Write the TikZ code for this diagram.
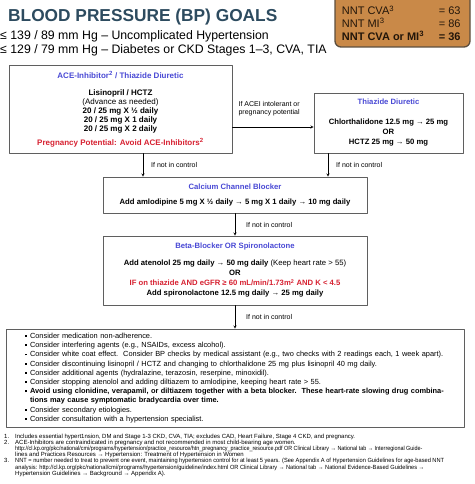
\documentclass[tikz,border=0pt]{standalone}
\usepackage{fontspec}
\usepackage{graphicx}
\setmainfont{Liberation Sans}
\usetikzlibrary{calc}
\definecolor{titlecol}{RGB}{45,75,95}
\definecolor{hdblue}{RGB}{72,72,212}
\definecolor{bpred}{RGB}{214,32,48}
\definecolor{boxgray}{RGB}{95,95,95}
\definecolor{nntfill}{RGB}{201,137,72}
\definecolor{nntline}{RGB}{92,78,62}
\definecolor{nnttext}{RGB}{35,22,10}
\newcommand{\sqb}{\hspace*{15pt}\makebox[5pt][l]{\rule[1.6pt]{1.8pt}{1.8pt}}}
\newcommand{\fnum}[1]{\makebox[11pt][l]{#1}}

\begin{document}
\begin{tikzpicture}[x=1pt,y=-1pt,>=stealth, line join=round, line cap=round]
	\tikzset{
		box/.style={draw=boxgray, line width=0.8pt, inner sep=0pt, align=center,
			font=\fontsize{7.7}{10}\selectfont\bfseries},
		lbl/.style={inner sep=0pt, font=\fontsize{7}{8.3}\selectfont},
		nntbox/.style={draw=nntline, line width=1.3pt, fill=nntfill, rounded corners=6pt}
	}
	\useasboundingbox (0,0) rectangle (474,484);
	% heading and goals
	\node[anchor=base west, inner sep=0pt, text=titlecol,
		font=\fontsize{17.3}{20}\selectfont\bfseries] (title) at (8,21.7) {BLOOD PRESSURE (BP) GOALS};
	\node[anchor=base west, inner sep=0pt, font=\fontsize{12.3}{14}\selectfont] (goalA) at (0,39.3)
		{≤ 139 / 89 mm Hg – Uncomplicated Hypertension};
	\node[anchor=base west, inner sep=0pt, font=\fontsize{12.3}{14}\selectfont] (goalB) at (0,54)
		{≤ 129 / 79 mm Hg – Diabetes or CKD Stages 1–3, CVA, TIA};
	% NNT box
	\node[nntbox, minimum width=135, minimum height=54] (nnt) at (402.5,20) {};
	\node[anchor=base west, inner sep=0pt, text=nnttext, font=\fontsize{11}{11.6}\selectfont] (nnttxt) at (341.7,15)
		{\begin{tabular}[t]{@{}p{97pt}@{}l@{}}
			NNT CVA\textsuperscript{3} & = 63\\
			NNT MI\textsuperscript{3} & = 86\\
			\textbf{NNT CVA or MI\textsuperscript{3}} & \textbf{= 36}
		\end{tabular}};
	% steps
	\node[box, font=\fontsize{8}{9}\selectfont\bfseries, minimum width=223, minimum height=88] (ace) at (120.5,109)
		{\textcolor{hdblue}{ACE-Inhibitor\textsuperscript{2} / Thiazide Diuretic}\\[8pt]
		Lisinopril / HCTZ\\
		{\mdseries (Advance as needed)}\\
		20 / 25 mg X ½ daily\\
		20 / 25 mg X 1 daily\\
		20 / 25 mg X 2 daily\\[5pt]
		\textcolor{bpred}{Pregnancy Potential: Avoid ACE-Inhibitors\textsuperscript{2}}};
	\node[box, minimum width=149, minimum height=60] (thz) at (388.5,123)
		{\textcolor{hdblue}{Thiazide Diuretic}\\[10pt]
		Chlorthalidone 12.5 mg → 25 mg\\
		OR\\
		HCTZ 25 mg → 50 mg};
	\node[box, minimum width=264, minimum height=36] (ccb) at (235,195)
		{\textcolor{hdblue}{Calcium Channel Blocker}\\[5.6pt]
		Add amlodipine 5 mg X ½ daily → 5 mg X 1 daily → 10 mg daily};
	\node[box, minimum width=264, minimum height=69] (bb) at (235,270.5)
		{\textcolor{hdblue}{Beta-Blocker OR Spironolactone}\\[7pt]
		Add atenolol 25 mg daily → 50 mg daily {\mdseries (Keep heart rate > 55)}\\
		OR\\
		\textcolor{bpred}{IF on thiazide AND eGFR ≥ 60 mL/min/1.73m\textsuperscript{2} AND K < 4.5}\\
		Add spironolactone 12.5 mg daily → 25 mg daily};
	\node[box, font=\fontsize{7.4}{9.2}\selectfont, align=left, text width=450pt, inner xsep=4pt,
		minimum width=458, minimum height=98] (cons) at (235,378)
		{\sqb Consider medication non-adherence.\\
		\sqb Consider interfering agents (e.g., NSAIDs, excess alcohol).\\
		\sqb Consider white coat effect.\ \ Consider BP checks by medical assistant (e.g., two checks with 2 readings each, 1 week apart).\\
		\sqb Consider discontinuing lisinopril / HCTZ and changing to chlorthalidone 25 mg plus lisinopril 40 mg daily.\\
		\sqb Consider additional agents (hydralazine, terazosin, reserpine, minoxidil).\\
		\sqb Consider stopping atenolol and adding diltiazem to amlodipine, keeping heart rate > 55.\\
		\sqb \textbf{Avoid using clonidine, verapamil, or diltiazem together with a beta blocker.\ \ These heart-rate slowing drug combina-}\\
		\hspace*{20pt}\textbf{tions may cause symptomatic bradycardia over time.}\\
		\sqb Consider secondary etiologies.\\
		\sqb Consider consultation with a hypertension specialist.};
	% connectors
	\draw[->] ([yshift=-18]ace.east) coordinate (a1) -- (a1 -| thz.west)
		node[pos=0, lbl, anchor=south west, align=left, xshift=6pt, yshift=11pt] (lblacei)
		{If ACEI intolerant or\\pregnancy potential};
	\draw[->] ([xshift=22.5]ace.south) coordinate (a2) -- (a2 |- ccb.north)
		node[midway, lbl, right=8pt] (lblA) {If not in control};
	\draw[->] ([xshift=-60.5]thz.south) coordinate (a3) -- (a3 |- ccb.north)
		node[midway, lbl, right=8pt] (lblB) {If not in control};
	\draw[->] (ccb.south) -- (bb.north)
		node[midway, lbl, right=11pt] (lblC) {If not in control};
	\draw[->] (bb.south) -- (cons.north)
		node[midway, lbl, right=11pt] (lblD) {If not in control};
	% footnotes
	\node[anchor=north west, inner sep=0pt, align=left, font=\fontsize{6}{6.2}\selectfont] (notes) at (4,433.5)
		{\fnum{1.}Includes essential hypert1nsion, DM and Stage 1-3 CKD, CVA, TIA; excludes CAD, Heart Failure, Stage 4 CKD, and pregnancy.\\
		\fnum{2.}ACE-Inhibitors are contraindicated in pregnancy and not recommended in most child-bearing age women.\\
		\hspace*{11pt}\scalebox{0.9}[1]{http://cl.kp.org/pkc/national/cmi/programs/hypertension/practice\_resource/htn\_pregnancy\_practice\_resource.pdf OR Clinical Library → National tab → Interregional Guide-}\\
		\hspace*{11pt}lines and Practices Resources → Hypertension: Treatment of Hypertension in Women\\
		\fnum{3.}\scalebox{0.945}[1]{NNT = number needed to treat to prevent one event, maintaining hypertension control for at least 5 years. (See Appendix A of Hypertension Guidelines for age-based NNT}\\
		\hspace*{11pt}\scalebox{0.945}[1]{analysis: http://cl.kp.org/pkc/national/cmi/programs/hypertension/guideline/index.html OR Clinical Library → National tab → National Evidence-Based Guidelines →}\\
		\hspace*{11pt}Hypertension Guidelines → Background → Appendix A).};
\end{tikzpicture}
\end{document}
